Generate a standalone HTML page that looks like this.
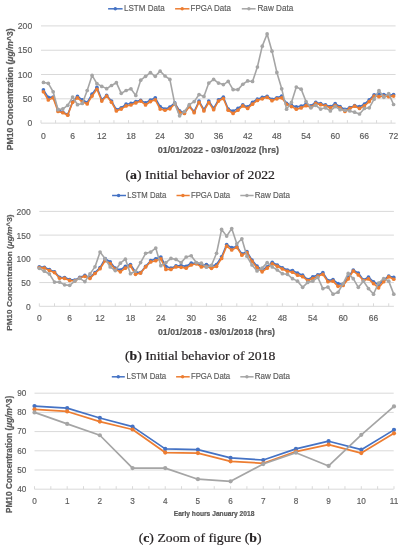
<!DOCTYPE html>
<html><head><meta charset="utf-8"><title>PM10 charts</title>
<style>html,body{margin:0;padding:0;background:#fff;}svg{display:block;filter:blur(0.4px);}text{font-family:"Liberation Sans",sans-serif;fill:#595959;stroke:#595959;stroke-width:0.15px;paint-order:stroke;}.b{stroke-width:0.22px;}.cap{stroke:#231F20;stroke-width:0.2px;}</style>
</head><body>
<svg width="404" height="550" viewBox="0 0 404 550">
<rect width="404" height="550" fill="#fff"/>
<line x1="41" y1="98.84" x2="395.6" y2="98.84" stroke="#D9D9D9" stroke-width="1"/>
<line x1="41" y1="74.53" x2="395.6" y2="74.53" stroke="#D9D9D9" stroke-width="1"/>
<line x1="41" y1="50.22" x2="395.6" y2="50.22" stroke="#D9D9D9" stroke-width="1"/>
<line x1="41" y1="25.91" x2="395.6" y2="25.91" stroke="#D9D9D9" stroke-width="1"/>
<line x1="41" y1="123.15" x2="395.6" y2="123.15" stroke="#D9D9D9" stroke-width="1"/>
<line x1="41" y1="120.15" x2="41" y2="123.15" stroke="#D9D9D9" stroke-width="1"/>
<line x1="55.59" y1="120.15" x2="55.59" y2="123.15" stroke="#D9D9D9" stroke-width="1"/>
<line x1="70.18" y1="120.15" x2="70.18" y2="123.15" stroke="#D9D9D9" stroke-width="1"/>
<line x1="84.77" y1="120.15" x2="84.77" y2="123.15" stroke="#D9D9D9" stroke-width="1"/>
<line x1="99.36" y1="120.15" x2="99.36" y2="123.15" stroke="#D9D9D9" stroke-width="1"/>
<line x1="113.95" y1="120.15" x2="113.95" y2="123.15" stroke="#D9D9D9" stroke-width="1"/>
<line x1="128.54" y1="120.15" x2="128.54" y2="123.15" stroke="#D9D9D9" stroke-width="1"/>
<line x1="143.13" y1="120.15" x2="143.13" y2="123.15" stroke="#D9D9D9" stroke-width="1"/>
<line x1="157.72" y1="120.15" x2="157.72" y2="123.15" stroke="#D9D9D9" stroke-width="1"/>
<line x1="172.31" y1="120.15" x2="172.31" y2="123.15" stroke="#D9D9D9" stroke-width="1"/>
<line x1="186.9" y1="120.15" x2="186.9" y2="123.15" stroke="#D9D9D9" stroke-width="1"/>
<line x1="201.49" y1="120.15" x2="201.49" y2="123.15" stroke="#D9D9D9" stroke-width="1"/>
<line x1="216.08" y1="120.15" x2="216.08" y2="123.15" stroke="#D9D9D9" stroke-width="1"/>
<line x1="230.67" y1="120.15" x2="230.67" y2="123.15" stroke="#D9D9D9" stroke-width="1"/>
<line x1="245.26" y1="120.15" x2="245.26" y2="123.15" stroke="#D9D9D9" stroke-width="1"/>
<line x1="259.85" y1="120.15" x2="259.85" y2="123.15" stroke="#D9D9D9" stroke-width="1"/>
<line x1="274.44" y1="120.15" x2="274.44" y2="123.15" stroke="#D9D9D9" stroke-width="1"/>
<line x1="289.03" y1="120.15" x2="289.03" y2="123.15" stroke="#D9D9D9" stroke-width="1"/>
<line x1="303.62" y1="120.15" x2="303.62" y2="123.15" stroke="#D9D9D9" stroke-width="1"/>
<line x1="318.21" y1="120.15" x2="318.21" y2="123.15" stroke="#D9D9D9" stroke-width="1"/>
<line x1="332.8" y1="120.15" x2="332.8" y2="123.15" stroke="#D9D9D9" stroke-width="1"/>
<line x1="347.39" y1="120.15" x2="347.39" y2="123.15" stroke="#D9D9D9" stroke-width="1"/>
<line x1="361.98" y1="120.15" x2="361.98" y2="123.15" stroke="#D9D9D9" stroke-width="1"/>
<line x1="376.57" y1="120.15" x2="376.57" y2="123.15" stroke="#D9D9D9" stroke-width="1"/>
<line x1="391.16" y1="120.15" x2="391.16" y2="123.15" stroke="#D9D9D9" stroke-width="1"/>
<g font-size="8.6" text-anchor="end">
<text x="32.2" y="126.25">0</text>
<text x="32.2" y="101.94">50</text>
<text x="32.2" y="77.63">100</text>
<text x="32.2" y="53.32">150</text>
<text x="32.2" y="29.01">200</text>
</g>
<g font-size="8.6" text-anchor="middle">
<text x="43.43" y="139">0</text>
<text x="72.61" y="139">6</text>
<text x="101.79" y="139">12</text>
<text x="130.96" y="139">18</text>
<text x="160.14" y="139">24</text>
<text x="189.32" y="139">30</text>
<text x="218.5" y="139">36</text>
<text x="247.68" y="139">42</text>
<text x="276.85" y="139">48</text>
<text x="306.03" y="139">54</text>
<text x="335.21" y="139">60</text>
<text x="364.39" y="139">66</text>
<text x="393.57" y="139">72</text>
</g>
<polyline points="43.43,89.89 48.29,97.38 53.16,97.04 58.02,109.68 62.88,112.16 67.75,114.59 72.61,101.76 77.47,96.41 82.33,99.81 87.2,102.49 92.06,94.22 96.92,87.41 101.79,99.81 106.65,95.44 111.51,101.03 116.38,109.68 121.24,107.83 126.1,104.19 130.96,103.46 135.83,101.61 140.69,100.4 145.55,102.88 150.42,100.01 155.28,97.87 160.14,106.62 165.01,109.05 169.87,107.2 174.73,102.88 179.59,110.9 184.46,112.75 189.32,105.94 194.18,111.48 199.05,101.03 203.91,109.68 208.77,101.03 213.64,108.42 218.5,99.81 223.36,97.14 228.22,109.05 233.09,111.14 237.95,108.42 242.81,104.97 247.68,106.96 252.54,102.24 257.4,99.13 262.26,97.38 267.13,96.26 271.99,99.33 276.85,97.87 281.72,96.07 286.58,103.36 291.44,105.16 296.31,106.96 301.17,106.13 306.03,103.95 310.9,105.94 315.76,102.24 320.62,103.7 325.48,104.97 330.35,106.62 335.21,103.7 340.07,106.62 344.94,109.44 349.8,107.54 354.66,105.7 359.53,106.62 364.39,104.19 369.25,99.81 374.11,94.8 378.98,94.22 383.84,94.56 388.7,95.44 393.57,94.56" fill="none" stroke="#4472C4" stroke-width="1.6" stroke-linejoin="round" stroke-linecap="round"/>
<circle cx="43.43" cy="89.89" r="1.85" fill="#4472C4"/>
<circle cx="48.29" cy="97.38" r="1.85" fill="#4472C4"/>
<circle cx="53.16" cy="97.04" r="1.85" fill="#4472C4"/>
<circle cx="58.02" cy="109.68" r="1.85" fill="#4472C4"/>
<circle cx="62.88" cy="112.16" r="1.85" fill="#4472C4"/>
<circle cx="67.75" cy="114.59" r="1.85" fill="#4472C4"/>
<circle cx="72.61" cy="101.76" r="1.85" fill="#4472C4"/>
<circle cx="77.47" cy="96.41" r="1.85" fill="#4472C4"/>
<circle cx="82.33" cy="99.81" r="1.85" fill="#4472C4"/>
<circle cx="87.2" cy="102.49" r="1.85" fill="#4472C4"/>
<circle cx="92.06" cy="94.22" r="1.85" fill="#4472C4"/>
<circle cx="96.92" cy="87.41" r="1.85" fill="#4472C4"/>
<circle cx="101.79" cy="99.81" r="1.85" fill="#4472C4"/>
<circle cx="106.65" cy="95.44" r="1.85" fill="#4472C4"/>
<circle cx="111.51" cy="101.03" r="1.85" fill="#4472C4"/>
<circle cx="116.38" cy="109.68" r="1.85" fill="#4472C4"/>
<circle cx="121.24" cy="107.83" r="1.85" fill="#4472C4"/>
<circle cx="126.1" cy="104.19" r="1.85" fill="#4472C4"/>
<circle cx="130.96" cy="103.46" r="1.85" fill="#4472C4"/>
<circle cx="135.83" cy="101.61" r="1.85" fill="#4472C4"/>
<circle cx="140.69" cy="100.4" r="1.85" fill="#4472C4"/>
<circle cx="145.55" cy="102.88" r="1.85" fill="#4472C4"/>
<circle cx="150.42" cy="100.01" r="1.85" fill="#4472C4"/>
<circle cx="155.28" cy="97.87" r="1.85" fill="#4472C4"/>
<circle cx="160.14" cy="106.62" r="1.85" fill="#4472C4"/>
<circle cx="165.01" cy="109.05" r="1.85" fill="#4472C4"/>
<circle cx="169.87" cy="107.2" r="1.85" fill="#4472C4"/>
<circle cx="174.73" cy="102.88" r="1.85" fill="#4472C4"/>
<circle cx="179.59" cy="110.9" r="1.85" fill="#4472C4"/>
<circle cx="184.46" cy="112.75" r="1.85" fill="#4472C4"/>
<circle cx="189.32" cy="105.94" r="1.85" fill="#4472C4"/>
<circle cx="194.18" cy="111.48" r="1.85" fill="#4472C4"/>
<circle cx="199.05" cy="101.03" r="1.85" fill="#4472C4"/>
<circle cx="203.91" cy="109.68" r="1.85" fill="#4472C4"/>
<circle cx="208.77" cy="101.03" r="1.85" fill="#4472C4"/>
<circle cx="213.64" cy="108.42" r="1.85" fill="#4472C4"/>
<circle cx="218.5" cy="99.81" r="1.85" fill="#4472C4"/>
<circle cx="223.36" cy="97.14" r="1.85" fill="#4472C4"/>
<circle cx="228.22" cy="109.05" r="1.85" fill="#4472C4"/>
<circle cx="233.09" cy="111.14" r="1.85" fill="#4472C4"/>
<circle cx="237.95" cy="108.42" r="1.85" fill="#4472C4"/>
<circle cx="242.81" cy="104.97" r="1.85" fill="#4472C4"/>
<circle cx="247.68" cy="106.96" r="1.85" fill="#4472C4"/>
<circle cx="252.54" cy="102.24" r="1.85" fill="#4472C4"/>
<circle cx="257.4" cy="99.13" r="1.85" fill="#4472C4"/>
<circle cx="262.26" cy="97.38" r="1.85" fill="#4472C4"/>
<circle cx="267.13" cy="96.26" r="1.85" fill="#4472C4"/>
<circle cx="271.99" cy="99.33" r="1.85" fill="#4472C4"/>
<circle cx="276.85" cy="97.87" r="1.85" fill="#4472C4"/>
<circle cx="281.72" cy="96.07" r="1.85" fill="#4472C4"/>
<circle cx="286.58" cy="103.36" r="1.85" fill="#4472C4"/>
<circle cx="291.44" cy="105.16" r="1.85" fill="#4472C4"/>
<circle cx="296.31" cy="106.96" r="1.85" fill="#4472C4"/>
<circle cx="301.17" cy="106.13" r="1.85" fill="#4472C4"/>
<circle cx="306.03" cy="103.95" r="1.85" fill="#4472C4"/>
<circle cx="310.9" cy="105.94" r="1.85" fill="#4472C4"/>
<circle cx="315.76" cy="102.24" r="1.85" fill="#4472C4"/>
<circle cx="320.62" cy="103.7" r="1.85" fill="#4472C4"/>
<circle cx="325.48" cy="104.97" r="1.85" fill="#4472C4"/>
<circle cx="330.35" cy="106.62" r="1.85" fill="#4472C4"/>
<circle cx="335.21" cy="103.7" r="1.85" fill="#4472C4"/>
<circle cx="340.07" cy="106.62" r="1.85" fill="#4472C4"/>
<circle cx="344.94" cy="109.44" r="1.85" fill="#4472C4"/>
<circle cx="349.8" cy="107.54" r="1.85" fill="#4472C4"/>
<circle cx="354.66" cy="105.7" r="1.85" fill="#4472C4"/>
<circle cx="359.53" cy="106.62" r="1.85" fill="#4472C4"/>
<circle cx="364.39" cy="104.19" r="1.85" fill="#4472C4"/>
<circle cx="369.25" cy="99.81" r="1.85" fill="#4472C4"/>
<circle cx="374.11" cy="94.8" r="1.85" fill="#4472C4"/>
<circle cx="378.98" cy="94.22" r="1.85" fill="#4472C4"/>
<circle cx="383.84" cy="94.56" r="1.85" fill="#4472C4"/>
<circle cx="388.7" cy="95.44" r="1.85" fill="#4472C4"/>
<circle cx="393.57" cy="94.56" r="1.85" fill="#4472C4"/>
<polyline points="43.43,91.74 48.29,100.01 53.16,97.87 58.02,111.48 62.88,112.75 67.75,115.22 72.61,102.24 77.47,97.87 82.33,101.76 87.2,103.95 92.06,96.07 96.92,89.26 101.79,101.03 106.65,96.07 111.51,102.24 116.38,110.9 121.24,109.05 126.1,105.94 130.96,105.01 135.83,102.88 140.69,101.03 145.55,104.97 150.42,101.61 155.28,99.81 160.14,109.05 165.01,110.27 169.87,108.81 174.73,103.95 179.59,112.16 184.46,113.43 189.32,106.62 194.18,112.75 199.05,102.24 203.91,110.9 208.77,102.49 213.64,109.68 218.5,101.03 223.36,98.55 228.22,110.27 233.09,113.43 237.95,110.27 242.81,105.94 247.68,108.42 252.54,104.19 257.4,100.4 262.26,98.84 267.13,97.33 271.99,100.64 276.85,98.84 281.72,97.87 286.58,104.24 291.44,106.62 296.31,109.15 301.17,107.88 306.03,105.65 310.9,107.2 315.76,103.46 320.62,104.67 325.48,105.94 330.35,107.83 335.21,105.36 340.07,107.83 344.94,111.48 349.8,108.42 354.66,106.18 359.53,108.42 364.39,105.94 369.25,101.61 374.11,96.07 378.98,96.65 383.84,96.07 388.7,96.65 393.57,96.07" fill="none" stroke="#ED7D31" stroke-width="1.6" stroke-linejoin="round" stroke-linecap="round"/>
<circle cx="43.43" cy="91.74" r="1.85" fill="#ED7D31"/>
<circle cx="48.29" cy="100.01" r="1.85" fill="#ED7D31"/>
<circle cx="53.16" cy="97.87" r="1.85" fill="#ED7D31"/>
<circle cx="58.02" cy="111.48" r="1.85" fill="#ED7D31"/>
<circle cx="62.88" cy="112.75" r="1.85" fill="#ED7D31"/>
<circle cx="67.75" cy="115.22" r="1.85" fill="#ED7D31"/>
<circle cx="72.61" cy="102.24" r="1.85" fill="#ED7D31"/>
<circle cx="77.47" cy="97.87" r="1.85" fill="#ED7D31"/>
<circle cx="82.33" cy="101.76" r="1.85" fill="#ED7D31"/>
<circle cx="87.2" cy="103.95" r="1.85" fill="#ED7D31"/>
<circle cx="92.06" cy="96.07" r="1.85" fill="#ED7D31"/>
<circle cx="96.92" cy="89.26" r="1.85" fill="#ED7D31"/>
<circle cx="101.79" cy="101.03" r="1.85" fill="#ED7D31"/>
<circle cx="106.65" cy="96.07" r="1.85" fill="#ED7D31"/>
<circle cx="111.51" cy="102.24" r="1.85" fill="#ED7D31"/>
<circle cx="116.38" cy="110.9" r="1.85" fill="#ED7D31"/>
<circle cx="121.24" cy="109.05" r="1.85" fill="#ED7D31"/>
<circle cx="126.1" cy="105.94" r="1.85" fill="#ED7D31"/>
<circle cx="130.96" cy="105.01" r="1.85" fill="#ED7D31"/>
<circle cx="135.83" cy="102.88" r="1.85" fill="#ED7D31"/>
<circle cx="140.69" cy="101.03" r="1.85" fill="#ED7D31"/>
<circle cx="145.55" cy="104.97" r="1.85" fill="#ED7D31"/>
<circle cx="150.42" cy="101.61" r="1.85" fill="#ED7D31"/>
<circle cx="155.28" cy="99.81" r="1.85" fill="#ED7D31"/>
<circle cx="160.14" cy="109.05" r="1.85" fill="#ED7D31"/>
<circle cx="165.01" cy="110.27" r="1.85" fill="#ED7D31"/>
<circle cx="169.87" cy="108.81" r="1.85" fill="#ED7D31"/>
<circle cx="174.73" cy="103.95" r="1.85" fill="#ED7D31"/>
<circle cx="179.59" cy="112.16" r="1.85" fill="#ED7D31"/>
<circle cx="184.46" cy="113.43" r="1.85" fill="#ED7D31"/>
<circle cx="189.32" cy="106.62" r="1.85" fill="#ED7D31"/>
<circle cx="194.18" cy="112.75" r="1.85" fill="#ED7D31"/>
<circle cx="199.05" cy="102.24" r="1.85" fill="#ED7D31"/>
<circle cx="203.91" cy="110.9" r="1.85" fill="#ED7D31"/>
<circle cx="208.77" cy="102.49" r="1.85" fill="#ED7D31"/>
<circle cx="213.64" cy="109.68" r="1.85" fill="#ED7D31"/>
<circle cx="218.5" cy="101.03" r="1.85" fill="#ED7D31"/>
<circle cx="223.36" cy="98.55" r="1.85" fill="#ED7D31"/>
<circle cx="228.22" cy="110.27" r="1.85" fill="#ED7D31"/>
<circle cx="233.09" cy="113.43" r="1.85" fill="#ED7D31"/>
<circle cx="237.95" cy="110.27" r="1.85" fill="#ED7D31"/>
<circle cx="242.81" cy="105.94" r="1.85" fill="#ED7D31"/>
<circle cx="247.68" cy="108.42" r="1.85" fill="#ED7D31"/>
<circle cx="252.54" cy="104.19" r="1.85" fill="#ED7D31"/>
<circle cx="257.4" cy="100.4" r="1.85" fill="#ED7D31"/>
<circle cx="262.26" cy="98.84" r="1.85" fill="#ED7D31"/>
<circle cx="267.13" cy="97.33" r="1.85" fill="#ED7D31"/>
<circle cx="271.99" cy="100.64" r="1.85" fill="#ED7D31"/>
<circle cx="276.85" cy="98.84" r="1.85" fill="#ED7D31"/>
<circle cx="281.72" cy="97.87" r="1.85" fill="#ED7D31"/>
<circle cx="286.58" cy="104.24" r="1.85" fill="#ED7D31"/>
<circle cx="291.44" cy="106.62" r="1.85" fill="#ED7D31"/>
<circle cx="296.31" cy="109.15" r="1.85" fill="#ED7D31"/>
<circle cx="301.17" cy="107.88" r="1.85" fill="#ED7D31"/>
<circle cx="306.03" cy="105.65" r="1.85" fill="#ED7D31"/>
<circle cx="310.9" cy="107.2" r="1.85" fill="#ED7D31"/>
<circle cx="315.76" cy="103.46" r="1.85" fill="#ED7D31"/>
<circle cx="320.62" cy="104.67" r="1.85" fill="#ED7D31"/>
<circle cx="325.48" cy="105.94" r="1.85" fill="#ED7D31"/>
<circle cx="330.35" cy="107.83" r="1.85" fill="#ED7D31"/>
<circle cx="335.21" cy="105.36" r="1.85" fill="#ED7D31"/>
<circle cx="340.07" cy="107.83" r="1.85" fill="#ED7D31"/>
<circle cx="344.94" cy="111.48" r="1.85" fill="#ED7D31"/>
<circle cx="349.8" cy="108.42" r="1.85" fill="#ED7D31"/>
<circle cx="354.66" cy="106.18" r="1.85" fill="#ED7D31"/>
<circle cx="359.53" cy="108.42" r="1.85" fill="#ED7D31"/>
<circle cx="364.39" cy="105.94" r="1.85" fill="#ED7D31"/>
<circle cx="369.25" cy="101.61" r="1.85" fill="#ED7D31"/>
<circle cx="374.11" cy="96.07" r="1.85" fill="#ED7D31"/>
<circle cx="378.98" cy="96.65" r="1.85" fill="#ED7D31"/>
<circle cx="383.84" cy="96.07" r="1.85" fill="#ED7D31"/>
<circle cx="388.7" cy="96.65" r="1.85" fill="#ED7D31"/>
<circle cx="393.57" cy="96.07" r="1.85" fill="#ED7D31"/>
<polyline points="43.43,82.46 48.29,83.28 53.16,91.74 58.02,109.68 62.88,108.81 67.75,105.36 72.61,97.04 77.47,104.67 82.33,103.46 87.2,90.48 92.06,75.41 96.92,83.67 101.79,86.39 106.65,88.63 111.51,85.52 116.38,82.7 121.24,93.35 126.1,90.48 130.96,88.87 135.83,95.44 140.69,80.22 145.55,76.28 150.42,72.59 155.28,76.28 160.14,71.13 165.01,75.99 169.87,79.39 174.73,103.7 179.59,115.86 184.46,111.48 189.32,104.67 194.18,101.61 199.05,94.56 203.91,96.41 208.77,83.09 213.64,79.39 218.5,83.09 223.36,84.55 228.22,81.43 233.09,89.6 237.95,89.6 242.81,84.25 247.68,80.95 252.54,81.43 257.4,66.99 262.26,46.14 267.13,33.93 271.99,51.19 276.85,72.44 281.72,88.82 286.58,109.15 291.44,102.44 296.31,86.98 301.17,89.16 306.03,101.51 310.9,107.83 315.76,105.36 320.62,109.05 325.48,107.83 330.35,110.9 335.21,106.62 340.07,109.68 344.94,110.27 349.8,110.9 354.66,112.16 359.53,114.01 364.39,108.42 369.25,107.83 374.11,99.13 378.98,90.48 383.84,97.28 388.7,93.59 393.57,104.48" fill="none" stroke="#A5A5A5" stroke-width="1.6" stroke-linejoin="round" stroke-linecap="round"/>
<circle cx="43.43" cy="82.46" r="1.85" fill="#A5A5A5"/>
<circle cx="48.29" cy="83.28" r="1.85" fill="#A5A5A5"/>
<circle cx="53.16" cy="91.74" r="1.85" fill="#A5A5A5"/>
<circle cx="58.02" cy="109.68" r="1.85" fill="#A5A5A5"/>
<circle cx="62.88" cy="108.81" r="1.85" fill="#A5A5A5"/>
<circle cx="67.75" cy="105.36" r="1.85" fill="#A5A5A5"/>
<circle cx="72.61" cy="97.04" r="1.85" fill="#A5A5A5"/>
<circle cx="77.47" cy="104.67" r="1.85" fill="#A5A5A5"/>
<circle cx="82.33" cy="103.46" r="1.85" fill="#A5A5A5"/>
<circle cx="87.2" cy="90.48" r="1.85" fill="#A5A5A5"/>
<circle cx="92.06" cy="75.41" r="1.85" fill="#A5A5A5"/>
<circle cx="96.92" cy="83.67" r="1.85" fill="#A5A5A5"/>
<circle cx="101.79" cy="86.39" r="1.85" fill="#A5A5A5"/>
<circle cx="106.65" cy="88.63" r="1.85" fill="#A5A5A5"/>
<circle cx="111.51" cy="85.52" r="1.85" fill="#A5A5A5"/>
<circle cx="116.38" cy="82.7" r="1.85" fill="#A5A5A5"/>
<circle cx="121.24" cy="93.35" r="1.85" fill="#A5A5A5"/>
<circle cx="126.1" cy="90.48" r="1.85" fill="#A5A5A5"/>
<circle cx="130.96" cy="88.87" r="1.85" fill="#A5A5A5"/>
<circle cx="135.83" cy="95.44" r="1.85" fill="#A5A5A5"/>
<circle cx="140.69" cy="80.22" r="1.85" fill="#A5A5A5"/>
<circle cx="145.55" cy="76.28" r="1.85" fill="#A5A5A5"/>
<circle cx="150.42" cy="72.59" r="1.85" fill="#A5A5A5"/>
<circle cx="155.28" cy="76.28" r="1.85" fill="#A5A5A5"/>
<circle cx="160.14" cy="71.13" r="1.85" fill="#A5A5A5"/>
<circle cx="165.01" cy="75.99" r="1.85" fill="#A5A5A5"/>
<circle cx="169.87" cy="79.39" r="1.85" fill="#A5A5A5"/>
<circle cx="174.73" cy="103.7" r="1.85" fill="#A5A5A5"/>
<circle cx="179.59" cy="115.86" r="1.85" fill="#A5A5A5"/>
<circle cx="184.46" cy="111.48" r="1.85" fill="#A5A5A5"/>
<circle cx="189.32" cy="104.67" r="1.85" fill="#A5A5A5"/>
<circle cx="194.18" cy="101.61" r="1.85" fill="#A5A5A5"/>
<circle cx="199.05" cy="94.56" r="1.85" fill="#A5A5A5"/>
<circle cx="203.91" cy="96.41" r="1.85" fill="#A5A5A5"/>
<circle cx="208.77" cy="83.09" r="1.85" fill="#A5A5A5"/>
<circle cx="213.64" cy="79.39" r="1.85" fill="#A5A5A5"/>
<circle cx="218.5" cy="83.09" r="1.85" fill="#A5A5A5"/>
<circle cx="223.36" cy="84.55" r="1.85" fill="#A5A5A5"/>
<circle cx="228.22" cy="81.43" r="1.85" fill="#A5A5A5"/>
<circle cx="233.09" cy="89.6" r="1.85" fill="#A5A5A5"/>
<circle cx="237.95" cy="89.6" r="1.85" fill="#A5A5A5"/>
<circle cx="242.81" cy="84.25" r="1.85" fill="#A5A5A5"/>
<circle cx="247.68" cy="80.95" r="1.85" fill="#A5A5A5"/>
<circle cx="252.54" cy="81.43" r="1.85" fill="#A5A5A5"/>
<circle cx="257.4" cy="66.99" r="1.85" fill="#A5A5A5"/>
<circle cx="262.26" cy="46.14" r="1.85" fill="#A5A5A5"/>
<circle cx="267.13" cy="33.93" r="1.85" fill="#A5A5A5"/>
<circle cx="271.99" cy="51.19" r="1.85" fill="#A5A5A5"/>
<circle cx="276.85" cy="72.44" r="1.85" fill="#A5A5A5"/>
<circle cx="281.72" cy="88.82" r="1.85" fill="#A5A5A5"/>
<circle cx="286.58" cy="109.15" r="1.85" fill="#A5A5A5"/>
<circle cx="291.44" cy="102.44" r="1.85" fill="#A5A5A5"/>
<circle cx="296.31" cy="86.98" r="1.85" fill="#A5A5A5"/>
<circle cx="301.17" cy="89.16" r="1.85" fill="#A5A5A5"/>
<circle cx="306.03" cy="101.51" r="1.85" fill="#A5A5A5"/>
<circle cx="310.9" cy="107.83" r="1.85" fill="#A5A5A5"/>
<circle cx="315.76" cy="105.36" r="1.85" fill="#A5A5A5"/>
<circle cx="320.62" cy="109.05" r="1.85" fill="#A5A5A5"/>
<circle cx="325.48" cy="107.83" r="1.85" fill="#A5A5A5"/>
<circle cx="330.35" cy="110.9" r="1.85" fill="#A5A5A5"/>
<circle cx="335.21" cy="106.62" r="1.85" fill="#A5A5A5"/>
<circle cx="340.07" cy="109.68" r="1.85" fill="#A5A5A5"/>
<circle cx="344.94" cy="110.27" r="1.85" fill="#A5A5A5"/>
<circle cx="349.8" cy="110.9" r="1.85" fill="#A5A5A5"/>
<circle cx="354.66" cy="112.16" r="1.85" fill="#A5A5A5"/>
<circle cx="359.53" cy="114.01" r="1.85" fill="#A5A5A5"/>
<circle cx="364.39" cy="108.42" r="1.85" fill="#A5A5A5"/>
<circle cx="369.25" cy="107.83" r="1.85" fill="#A5A5A5"/>
<circle cx="374.11" cy="99.13" r="1.85" fill="#A5A5A5"/>
<circle cx="378.98" cy="90.48" r="1.85" fill="#A5A5A5"/>
<circle cx="383.84" cy="97.28" r="1.85" fill="#A5A5A5"/>
<circle cx="388.7" cy="93.59" r="1.85" fill="#A5A5A5"/>
<circle cx="393.57" cy="104.48" r="1.85" fill="#A5A5A5"/>
<text x="157.7" y="152.8" font-size="8.9" font-weight="bold" class="b" textLength="121.3" lengthAdjust="spacingAndGlyphs">01/01/2022 - 03/01/2022 (hrs)</text>
<text transform="translate(13.4,150.3) rotate(-90)" font-size="9.0" font-weight="bold" class="b" textLength="121.9" lengthAdjust="spacingAndGlyphs">PM10 Concentration (<tspan font-style="italic">μg/m</tspan>^3)</text>
<line x1="108.1" y1="8.8" x2="122.6" y2="8.8" stroke="#4472C4" stroke-width="1.5"/>
<circle cx="115.3" cy="8.8" r="1.7" fill="#4472C4"/>
<text x="124" y="11.4" font-size="8.7" textLength="40.6" lengthAdjust="spacingAndGlyphs">LSTM Data</text>
<line x1="175.1" y1="8.8" x2="189.4" y2="8.8" stroke="#ED7D31" stroke-width="1.5"/>
<circle cx="182.2" cy="8.8" r="1.7" fill="#ED7D31"/>
<text x="190.6" y="11.4" font-size="8.7" textLength="40.3" lengthAdjust="spacingAndGlyphs">FPGA Data</text>
<line x1="241.8" y1="8.8" x2="255.6" y2="8.8" stroke="#A5A5A5" stroke-width="1.5"/>
<circle cx="248.9" cy="8.8" r="1.7" fill="#A5A5A5"/>
<text x="257.5" y="11.4" font-size="8.7" textLength="35.7" lengthAdjust="spacingAndGlyphs">Raw Data</text>
<text x="125.5" y="179.4" class="cap" style="font-family:'Liberation Serif',serif;fill:#231F20" font-size="12.6" textLength="149.5" lengthAdjust="spacingAndGlyphs">(<tspan font-weight="bold">a</tspan>) Initial behavior of 2022</text>
<line x1="39.3" y1="282.57" x2="393.9" y2="282.57" stroke="#D9D9D9" stroke-width="1"/>
<line x1="39.3" y1="258.85" x2="393.9" y2="258.85" stroke="#D9D9D9" stroke-width="1"/>
<line x1="39.3" y1="235.12" x2="393.9" y2="235.12" stroke="#D9D9D9" stroke-width="1"/>
<line x1="39.3" y1="211.4" x2="393.9" y2="211.4" stroke="#D9D9D9" stroke-width="1"/>
<line x1="39.3" y1="306.3" x2="393.9" y2="306.3" stroke="#D9D9D9" stroke-width="1"/>
<line x1="39.3" y1="303.3" x2="39.3" y2="306.3" stroke="#D9D9D9" stroke-width="1"/>
<line x1="54.49" y1="303.3" x2="54.49" y2="306.3" stroke="#D9D9D9" stroke-width="1"/>
<line x1="69.68" y1="303.3" x2="69.68" y2="306.3" stroke="#D9D9D9" stroke-width="1"/>
<line x1="84.88" y1="303.3" x2="84.88" y2="306.3" stroke="#D9D9D9" stroke-width="1"/>
<line x1="100.07" y1="303.3" x2="100.07" y2="306.3" stroke="#D9D9D9" stroke-width="1"/>
<line x1="115.26" y1="303.3" x2="115.26" y2="306.3" stroke="#D9D9D9" stroke-width="1"/>
<line x1="130.45" y1="303.3" x2="130.45" y2="306.3" stroke="#D9D9D9" stroke-width="1"/>
<line x1="145.64" y1="303.3" x2="145.64" y2="306.3" stroke="#D9D9D9" stroke-width="1"/>
<line x1="160.84" y1="303.3" x2="160.84" y2="306.3" stroke="#D9D9D9" stroke-width="1"/>
<line x1="176.03" y1="303.3" x2="176.03" y2="306.3" stroke="#D9D9D9" stroke-width="1"/>
<line x1="191.22" y1="303.3" x2="191.22" y2="306.3" stroke="#D9D9D9" stroke-width="1"/>
<line x1="206.41" y1="303.3" x2="206.41" y2="306.3" stroke="#D9D9D9" stroke-width="1"/>
<line x1="221.6" y1="303.3" x2="221.6" y2="306.3" stroke="#D9D9D9" stroke-width="1"/>
<line x1="236.8" y1="303.3" x2="236.8" y2="306.3" stroke="#D9D9D9" stroke-width="1"/>
<line x1="251.99" y1="303.3" x2="251.99" y2="306.3" stroke="#D9D9D9" stroke-width="1"/>
<line x1="267.18" y1="303.3" x2="267.18" y2="306.3" stroke="#D9D9D9" stroke-width="1"/>
<line x1="282.37" y1="303.3" x2="282.37" y2="306.3" stroke="#D9D9D9" stroke-width="1"/>
<line x1="297.56" y1="303.3" x2="297.56" y2="306.3" stroke="#D9D9D9" stroke-width="1"/>
<line x1="312.76" y1="303.3" x2="312.76" y2="306.3" stroke="#D9D9D9" stroke-width="1"/>
<line x1="327.95" y1="303.3" x2="327.95" y2="306.3" stroke="#D9D9D9" stroke-width="1"/>
<line x1="343.14" y1="303.3" x2="343.14" y2="306.3" stroke="#D9D9D9" stroke-width="1"/>
<line x1="358.33" y1="303.3" x2="358.33" y2="306.3" stroke="#D9D9D9" stroke-width="1"/>
<line x1="373.52" y1="303.3" x2="373.52" y2="306.3" stroke="#D9D9D9" stroke-width="1"/>
<line x1="388.72" y1="303.3" x2="388.72" y2="306.3" stroke="#D9D9D9" stroke-width="1"/>
<g font-size="8.5" text-anchor="end">
<text x="30.8" y="309.7">0</text>
<text x="30.8" y="285.97">50</text>
<text x="30.8" y="262.25">100</text>
<text x="30.8" y="238.53">150</text>
<text x="30.8" y="214.8">200</text>
</g>
<g font-size="8.5" text-anchor="middle">
<text x="39.3" y="321.2">0</text>
<text x="69.68" y="321.2">6</text>
<text x="100.07" y="321.2">12</text>
<text x="130.45" y="321.2">18</text>
<text x="160.84" y="321.2">24</text>
<text x="191.22" y="321.2">30</text>
<text x="221.6" y="321.2">36</text>
<text x="251.99" y="321.2">42</text>
<text x="282.37" y="321.2">48</text>
<text x="312.76" y="321.2">54</text>
<text x="343.14" y="321.2">60</text>
<text x="373.52" y="321.2">66</text>
</g>
<polyline points="39.3,266.77 44.36,267.3 49.43,269.72 54.49,271.85 59.56,277.36 64.62,277.55 69.68,279.59 74.75,280.11 79.81,277.36 84.88,275.46 89.94,277.55 95,272.66 100.07,267.53 105.13,258.61 110.2,261.93 115.26,268.15 120.32,270 125.39,266.3 130.45,264.54 135.52,271.85 140.58,272.71 145.64,266.3 150.71,260.7 155.77,258.85 160.84,257 165.9,266.3 170.96,268.15 176.03,265.97 181.09,265.64 186.16,266.3 191.22,263.22 196.28,263.22 201.35,265.64 206.41,264.54 211.48,266.3 216.54,264.54 221.6,256.81 226.67,244.62 231.73,247.7 236.8,246.51 241.86,253.92 246.92,251.59 251.99,260.04 257.05,266.2 262.12,270 267.18,266.92 272.24,262.36 277.31,265.02 282.37,267.77 287.44,270 292.5,270.62 297.56,273.09 302.63,275.22 307.69,279.63 312.76,276.79 317.82,274.94 322.88,272.71 327.95,280.53 333.01,279.63 338.08,283.62 343.14,284.24 348.2,277.4 353.27,270 358.33,273.09 363.4,279.92 368.46,277.17 373.52,281.77 378.59,284.85 383.65,279.92 388.72,276.17 393.78,277.4" fill="none" stroke="#4472C4" stroke-width="1.6" stroke-linejoin="round" stroke-linecap="round"/>
<circle cx="39.3" cy="266.77" r="1.85" fill="#4472C4"/>
<circle cx="44.36" cy="267.3" r="1.85" fill="#4472C4"/>
<circle cx="49.43" cy="269.72" r="1.85" fill="#4472C4"/>
<circle cx="54.49" cy="271.85" r="1.85" fill="#4472C4"/>
<circle cx="59.56" cy="277.36" r="1.85" fill="#4472C4"/>
<circle cx="64.62" cy="277.55" r="1.85" fill="#4472C4"/>
<circle cx="69.68" cy="279.59" r="1.85" fill="#4472C4"/>
<circle cx="74.75" cy="280.11" r="1.85" fill="#4472C4"/>
<circle cx="79.81" cy="277.36" r="1.85" fill="#4472C4"/>
<circle cx="84.88" cy="275.46" r="1.85" fill="#4472C4"/>
<circle cx="89.94" cy="277.55" r="1.85" fill="#4472C4"/>
<circle cx="95" cy="272.66" r="1.85" fill="#4472C4"/>
<circle cx="100.07" cy="267.53" r="1.85" fill="#4472C4"/>
<circle cx="105.13" cy="258.61" r="1.85" fill="#4472C4"/>
<circle cx="110.2" cy="261.93" r="1.85" fill="#4472C4"/>
<circle cx="115.26" cy="268.15" r="1.85" fill="#4472C4"/>
<circle cx="120.32" cy="270" r="1.85" fill="#4472C4"/>
<circle cx="125.39" cy="266.3" r="1.85" fill="#4472C4"/>
<circle cx="130.45" cy="264.54" r="1.85" fill="#4472C4"/>
<circle cx="135.52" cy="271.85" r="1.85" fill="#4472C4"/>
<circle cx="140.58" cy="272.71" r="1.85" fill="#4472C4"/>
<circle cx="145.64" cy="266.3" r="1.85" fill="#4472C4"/>
<circle cx="150.71" cy="260.7" r="1.85" fill="#4472C4"/>
<circle cx="155.77" cy="258.85" r="1.85" fill="#4472C4"/>
<circle cx="160.84" cy="257" r="1.85" fill="#4472C4"/>
<circle cx="165.9" cy="266.3" r="1.85" fill="#4472C4"/>
<circle cx="170.96" cy="268.15" r="1.85" fill="#4472C4"/>
<circle cx="176.03" cy="265.97" r="1.85" fill="#4472C4"/>
<circle cx="181.09" cy="265.64" r="1.85" fill="#4472C4"/>
<circle cx="186.16" cy="266.3" r="1.85" fill="#4472C4"/>
<circle cx="191.22" cy="263.22" r="1.85" fill="#4472C4"/>
<circle cx="196.28" cy="263.22" r="1.85" fill="#4472C4"/>
<circle cx="201.35" cy="265.64" r="1.85" fill="#4472C4"/>
<circle cx="206.41" cy="264.54" r="1.85" fill="#4472C4"/>
<circle cx="211.48" cy="266.3" r="1.85" fill="#4472C4"/>
<circle cx="216.54" cy="264.54" r="1.85" fill="#4472C4"/>
<circle cx="221.6" cy="256.81" r="1.85" fill="#4472C4"/>
<circle cx="226.67" cy="244.62" r="1.85" fill="#4472C4"/>
<circle cx="231.73" cy="247.7" r="1.85" fill="#4472C4"/>
<circle cx="236.8" cy="246.51" r="1.85" fill="#4472C4"/>
<circle cx="241.86" cy="253.92" r="1.85" fill="#4472C4"/>
<circle cx="246.92" cy="251.59" r="1.85" fill="#4472C4"/>
<circle cx="251.99" cy="260.04" r="1.85" fill="#4472C4"/>
<circle cx="257.05" cy="266.2" r="1.85" fill="#4472C4"/>
<circle cx="262.12" cy="270" r="1.85" fill="#4472C4"/>
<circle cx="267.18" cy="266.92" r="1.85" fill="#4472C4"/>
<circle cx="272.24" cy="262.36" r="1.85" fill="#4472C4"/>
<circle cx="277.31" cy="265.02" r="1.85" fill="#4472C4"/>
<circle cx="282.37" cy="267.77" r="1.85" fill="#4472C4"/>
<circle cx="287.44" cy="270" r="1.85" fill="#4472C4"/>
<circle cx="292.5" cy="270.62" r="1.85" fill="#4472C4"/>
<circle cx="297.56" cy="273.09" r="1.85" fill="#4472C4"/>
<circle cx="302.63" cy="275.22" r="1.85" fill="#4472C4"/>
<circle cx="307.69" cy="279.63" r="1.85" fill="#4472C4"/>
<circle cx="312.76" cy="276.79" r="1.85" fill="#4472C4"/>
<circle cx="317.82" cy="274.94" r="1.85" fill="#4472C4"/>
<circle cx="322.88" cy="272.71" r="1.85" fill="#4472C4"/>
<circle cx="327.95" cy="280.53" r="1.85" fill="#4472C4"/>
<circle cx="333.01" cy="279.63" r="1.85" fill="#4472C4"/>
<circle cx="338.08" cy="283.62" r="1.85" fill="#4472C4"/>
<circle cx="343.14" cy="284.24" r="1.85" fill="#4472C4"/>
<circle cx="348.2" cy="277.4" r="1.85" fill="#4472C4"/>
<circle cx="353.27" cy="270" r="1.85" fill="#4472C4"/>
<circle cx="358.33" cy="273.09" r="1.85" fill="#4472C4"/>
<circle cx="363.4" cy="279.92" r="1.85" fill="#4472C4"/>
<circle cx="368.46" cy="277.17" r="1.85" fill="#4472C4"/>
<circle cx="373.52" cy="281.77" r="1.85" fill="#4472C4"/>
<circle cx="378.59" cy="284.85" r="1.85" fill="#4472C4"/>
<circle cx="383.65" cy="279.92" r="1.85" fill="#4472C4"/>
<circle cx="388.72" cy="276.17" r="1.85" fill="#4472C4"/>
<circle cx="393.78" cy="277.4" r="1.85" fill="#4472C4"/>
<polyline points="39.3,267.58 44.36,268.1 49.43,270.62 54.49,272.56 59.56,278.26 64.62,278.4 69.68,280.44 74.75,280.91 79.81,278.02 84.88,276.31 89.94,278.4 95,273.51 100.07,268.77 105.13,260.7 110.2,263.55 115.26,269.38 120.32,271.85 125.39,268.15 130.45,265.97 135.52,274.32 140.58,273.09 145.64,266.92 150.71,261.93 155.77,260.7 160.84,258.85 165.9,269.38 170.96,269.38 176.03,266.92 181.09,267.3 186.16,268.15 191.22,265.02 196.28,263.83 201.35,266.92 206.41,266.44 211.48,268.34 216.54,266.3 221.6,258.38 226.67,246.18 231.73,250.02 236.8,247.41 241.86,255.15 246.92,252.68 251.99,261.46 257.05,267.63 262.12,271.85 267.18,268.15 272.24,263.83 277.31,266.3 282.37,269 287.44,271.23 292.5,272.23 297.56,275.17 302.63,276.64 307.69,280.53 312.76,278.64 317.82,276.17 322.88,274.32 327.95,281.77 333.01,281.15 338.08,286.37 343.14,285.42 348.2,278.92 353.27,271 358.33,274.94 363.4,280.53 368.46,278.92 373.52,283.62 378.59,287.84 383.65,281.77 388.72,276.79 393.78,279.25" fill="none" stroke="#ED7D31" stroke-width="1.6" stroke-linejoin="round" stroke-linecap="round"/>
<circle cx="39.3" cy="267.58" r="1.85" fill="#ED7D31"/>
<circle cx="44.36" cy="268.1" r="1.85" fill="#ED7D31"/>
<circle cx="49.43" cy="270.62" r="1.85" fill="#ED7D31"/>
<circle cx="54.49" cy="272.56" r="1.85" fill="#ED7D31"/>
<circle cx="59.56" cy="278.26" r="1.85" fill="#ED7D31"/>
<circle cx="64.62" cy="278.4" r="1.85" fill="#ED7D31"/>
<circle cx="69.68" cy="280.44" r="1.85" fill="#ED7D31"/>
<circle cx="74.75" cy="280.91" r="1.85" fill="#ED7D31"/>
<circle cx="79.81" cy="278.02" r="1.85" fill="#ED7D31"/>
<circle cx="84.88" cy="276.31" r="1.85" fill="#ED7D31"/>
<circle cx="89.94" cy="278.4" r="1.85" fill="#ED7D31"/>
<circle cx="95" cy="273.51" r="1.85" fill="#ED7D31"/>
<circle cx="100.07" cy="268.77" r="1.85" fill="#ED7D31"/>
<circle cx="105.13" cy="260.7" r="1.85" fill="#ED7D31"/>
<circle cx="110.2" cy="263.55" r="1.85" fill="#ED7D31"/>
<circle cx="115.26" cy="269.38" r="1.85" fill="#ED7D31"/>
<circle cx="120.32" cy="271.85" r="1.85" fill="#ED7D31"/>
<circle cx="125.39" cy="268.15" r="1.85" fill="#ED7D31"/>
<circle cx="130.45" cy="265.97" r="1.85" fill="#ED7D31"/>
<circle cx="135.52" cy="274.32" r="1.85" fill="#ED7D31"/>
<circle cx="140.58" cy="273.09" r="1.85" fill="#ED7D31"/>
<circle cx="145.64" cy="266.92" r="1.85" fill="#ED7D31"/>
<circle cx="150.71" cy="261.93" r="1.85" fill="#ED7D31"/>
<circle cx="155.77" cy="260.7" r="1.85" fill="#ED7D31"/>
<circle cx="160.84" cy="258.85" r="1.85" fill="#ED7D31"/>
<circle cx="165.9" cy="269.38" r="1.85" fill="#ED7D31"/>
<circle cx="170.96" cy="269.38" r="1.85" fill="#ED7D31"/>
<circle cx="176.03" cy="266.92" r="1.85" fill="#ED7D31"/>
<circle cx="181.09" cy="267.3" r="1.85" fill="#ED7D31"/>
<circle cx="186.16" cy="268.15" r="1.85" fill="#ED7D31"/>
<circle cx="191.22" cy="265.02" r="1.85" fill="#ED7D31"/>
<circle cx="196.28" cy="263.83" r="1.85" fill="#ED7D31"/>
<circle cx="201.35" cy="266.92" r="1.85" fill="#ED7D31"/>
<circle cx="206.41" cy="266.44" r="1.85" fill="#ED7D31"/>
<circle cx="211.48" cy="268.34" r="1.85" fill="#ED7D31"/>
<circle cx="216.54" cy="266.3" r="1.85" fill="#ED7D31"/>
<circle cx="221.6" cy="258.38" r="1.85" fill="#ED7D31"/>
<circle cx="226.67" cy="246.18" r="1.85" fill="#ED7D31"/>
<circle cx="231.73" cy="250.02" r="1.85" fill="#ED7D31"/>
<circle cx="236.8" cy="247.41" r="1.85" fill="#ED7D31"/>
<circle cx="241.86" cy="255.15" r="1.85" fill="#ED7D31"/>
<circle cx="246.92" cy="252.68" r="1.85" fill="#ED7D31"/>
<circle cx="251.99" cy="261.46" r="1.85" fill="#ED7D31"/>
<circle cx="257.05" cy="267.63" r="1.85" fill="#ED7D31"/>
<circle cx="262.12" cy="271.85" r="1.85" fill="#ED7D31"/>
<circle cx="267.18" cy="268.15" r="1.85" fill="#ED7D31"/>
<circle cx="272.24" cy="263.83" r="1.85" fill="#ED7D31"/>
<circle cx="277.31" cy="266.3" r="1.85" fill="#ED7D31"/>
<circle cx="282.37" cy="269" r="1.85" fill="#ED7D31"/>
<circle cx="287.44" cy="271.23" r="1.85" fill="#ED7D31"/>
<circle cx="292.5" cy="272.23" r="1.85" fill="#ED7D31"/>
<circle cx="297.56" cy="275.17" r="1.85" fill="#ED7D31"/>
<circle cx="302.63" cy="276.64" r="1.85" fill="#ED7D31"/>
<circle cx="307.69" cy="280.53" r="1.85" fill="#ED7D31"/>
<circle cx="312.76" cy="278.64" r="1.85" fill="#ED7D31"/>
<circle cx="317.82" cy="276.17" r="1.85" fill="#ED7D31"/>
<circle cx="322.88" cy="274.32" r="1.85" fill="#ED7D31"/>
<circle cx="327.95" cy="281.77" r="1.85" fill="#ED7D31"/>
<circle cx="333.01" cy="281.15" r="1.85" fill="#ED7D31"/>
<circle cx="338.08" cy="286.37" r="1.85" fill="#ED7D31"/>
<circle cx="343.14" cy="285.42" r="1.85" fill="#ED7D31"/>
<circle cx="348.2" cy="278.92" r="1.85" fill="#ED7D31"/>
<circle cx="353.27" cy="271" r="1.85" fill="#ED7D31"/>
<circle cx="358.33" cy="274.94" r="1.85" fill="#ED7D31"/>
<circle cx="363.4" cy="280.53" r="1.85" fill="#ED7D31"/>
<circle cx="368.46" cy="278.92" r="1.85" fill="#ED7D31"/>
<circle cx="373.52" cy="283.62" r="1.85" fill="#ED7D31"/>
<circle cx="378.59" cy="287.84" r="1.85" fill="#ED7D31"/>
<circle cx="383.65" cy="281.77" r="1.85" fill="#ED7D31"/>
<circle cx="388.72" cy="276.79" r="1.85" fill="#ED7D31"/>
<circle cx="393.78" cy="279.25" r="1.85" fill="#ED7D31"/>
<polyline points="39.3,268.34 44.36,271.19 49.43,273.99 54.49,282.1 59.56,282.1 64.62,284.85 69.68,285.37 74.75,281.1 79.81,278.3 84.88,281.58 89.94,273.89 95,266.87 100.07,252.06 105.13,258.85 110.2,266.92 115.26,270.62 120.32,263.22 125.39,259.13 130.45,273.7 135.52,271.23 140.58,262.6 145.64,253.35 150.71,252.06 155.77,247.98 160.84,265.64 165.9,262.6 170.96,258.38 176.03,259.47 181.09,262.6 186.16,257 191.22,255.77 196.28,262.6 201.35,263.22 206.41,267.15 211.48,265.26 216.54,253.25 221.6,229.43 226.67,236.12 231.73,228.48 236.8,243.86 241.86,238.78 246.92,256.24 251.99,265.02 257.05,270.95 262.12,268.15 267.18,262.6 272.24,266.92 277.31,270 282.37,273.7 287.44,274.32 292.5,278.64 297.56,281.15 302.63,287.32 307.69,282.39 312.76,281.15 317.82,277.4 322.88,288.55 327.95,287.08 333.01,294.15 338.08,292.25 343.14,283.62 348.2,273.46 353.27,278.64 358.33,287.32 363.4,281.15 368.46,288.55 373.52,294.15 378.59,283 383.65,278.64 388.72,281.15 393.78,294.15" fill="none" stroke="#A5A5A5" stroke-width="1.6" stroke-linejoin="round" stroke-linecap="round"/>
<circle cx="39.3" cy="268.34" r="1.85" fill="#A5A5A5"/>
<circle cx="44.36" cy="271.19" r="1.85" fill="#A5A5A5"/>
<circle cx="49.43" cy="273.99" r="1.85" fill="#A5A5A5"/>
<circle cx="54.49" cy="282.1" r="1.85" fill="#A5A5A5"/>
<circle cx="59.56" cy="282.1" r="1.85" fill="#A5A5A5"/>
<circle cx="64.62" cy="284.85" r="1.85" fill="#A5A5A5"/>
<circle cx="69.68" cy="285.37" r="1.85" fill="#A5A5A5"/>
<circle cx="74.75" cy="281.1" r="1.85" fill="#A5A5A5"/>
<circle cx="79.81" cy="278.3" r="1.85" fill="#A5A5A5"/>
<circle cx="84.88" cy="281.58" r="1.85" fill="#A5A5A5"/>
<circle cx="89.94" cy="273.89" r="1.85" fill="#A5A5A5"/>
<circle cx="95" cy="266.87" r="1.85" fill="#A5A5A5"/>
<circle cx="100.07" cy="252.06" r="1.85" fill="#A5A5A5"/>
<circle cx="105.13" cy="258.85" r="1.85" fill="#A5A5A5"/>
<circle cx="110.2" cy="266.92" r="1.85" fill="#A5A5A5"/>
<circle cx="115.26" cy="270.62" r="1.85" fill="#A5A5A5"/>
<circle cx="120.32" cy="263.22" r="1.85" fill="#A5A5A5"/>
<circle cx="125.39" cy="259.13" r="1.85" fill="#A5A5A5"/>
<circle cx="130.45" cy="273.7" r="1.85" fill="#A5A5A5"/>
<circle cx="135.52" cy="271.23" r="1.85" fill="#A5A5A5"/>
<circle cx="140.58" cy="262.6" r="1.85" fill="#A5A5A5"/>
<circle cx="145.64" cy="253.35" r="1.85" fill="#A5A5A5"/>
<circle cx="150.71" cy="252.06" r="1.85" fill="#A5A5A5"/>
<circle cx="155.77" cy="247.98" r="1.85" fill="#A5A5A5"/>
<circle cx="160.84" cy="265.64" r="1.85" fill="#A5A5A5"/>
<circle cx="165.9" cy="262.6" r="1.85" fill="#A5A5A5"/>
<circle cx="170.96" cy="258.38" r="1.85" fill="#A5A5A5"/>
<circle cx="176.03" cy="259.47" r="1.85" fill="#A5A5A5"/>
<circle cx="181.09" cy="262.6" r="1.85" fill="#A5A5A5"/>
<circle cx="186.16" cy="257" r="1.85" fill="#A5A5A5"/>
<circle cx="191.22" cy="255.77" r="1.85" fill="#A5A5A5"/>
<circle cx="196.28" cy="262.6" r="1.85" fill="#A5A5A5"/>
<circle cx="201.35" cy="263.22" r="1.85" fill="#A5A5A5"/>
<circle cx="206.41" cy="267.15" r="1.85" fill="#A5A5A5"/>
<circle cx="211.48" cy="265.26" r="1.85" fill="#A5A5A5"/>
<circle cx="216.54" cy="253.25" r="1.85" fill="#A5A5A5"/>
<circle cx="221.6" cy="229.43" r="1.85" fill="#A5A5A5"/>
<circle cx="226.67" cy="236.12" r="1.85" fill="#A5A5A5"/>
<circle cx="231.73" cy="228.48" r="1.85" fill="#A5A5A5"/>
<circle cx="236.8" cy="243.86" r="1.85" fill="#A5A5A5"/>
<circle cx="241.86" cy="238.78" r="1.85" fill="#A5A5A5"/>
<circle cx="246.92" cy="256.24" r="1.85" fill="#A5A5A5"/>
<circle cx="251.99" cy="265.02" r="1.85" fill="#A5A5A5"/>
<circle cx="257.05" cy="270.95" r="1.85" fill="#A5A5A5"/>
<circle cx="262.12" cy="268.15" r="1.85" fill="#A5A5A5"/>
<circle cx="267.18" cy="262.6" r="1.85" fill="#A5A5A5"/>
<circle cx="272.24" cy="266.92" r="1.85" fill="#A5A5A5"/>
<circle cx="277.31" cy="270" r="1.85" fill="#A5A5A5"/>
<circle cx="282.37" cy="273.7" r="1.85" fill="#A5A5A5"/>
<circle cx="287.44" cy="274.32" r="1.85" fill="#A5A5A5"/>
<circle cx="292.5" cy="278.64" r="1.85" fill="#A5A5A5"/>
<circle cx="297.56" cy="281.15" r="1.85" fill="#A5A5A5"/>
<circle cx="302.63" cy="287.32" r="1.85" fill="#A5A5A5"/>
<circle cx="307.69" cy="282.39" r="1.85" fill="#A5A5A5"/>
<circle cx="312.76" cy="281.15" r="1.85" fill="#A5A5A5"/>
<circle cx="317.82" cy="277.4" r="1.85" fill="#A5A5A5"/>
<circle cx="322.88" cy="288.55" r="1.85" fill="#A5A5A5"/>
<circle cx="327.95" cy="287.08" r="1.85" fill="#A5A5A5"/>
<circle cx="333.01" cy="294.15" r="1.85" fill="#A5A5A5"/>
<circle cx="338.08" cy="292.25" r="1.85" fill="#A5A5A5"/>
<circle cx="343.14" cy="283.62" r="1.85" fill="#A5A5A5"/>
<circle cx="348.2" cy="273.46" r="1.85" fill="#A5A5A5"/>
<circle cx="353.27" cy="278.64" r="1.85" fill="#A5A5A5"/>
<circle cx="358.33" cy="287.32" r="1.85" fill="#A5A5A5"/>
<circle cx="363.4" cy="281.15" r="1.85" fill="#A5A5A5"/>
<circle cx="368.46" cy="288.55" r="1.85" fill="#A5A5A5"/>
<circle cx="373.52" cy="294.15" r="1.85" fill="#A5A5A5"/>
<circle cx="378.59" cy="283" r="1.85" fill="#A5A5A5"/>
<circle cx="383.65" cy="278.64" r="1.85" fill="#A5A5A5"/>
<circle cx="388.72" cy="281.15" r="1.85" fill="#A5A5A5"/>
<circle cx="393.78" cy="294.15" r="1.85" fill="#A5A5A5"/>
<text x="158" y="334.7" font-size="8.5" font-weight="bold" class="b" textLength="117" lengthAdjust="spacingAndGlyphs">01/01/2018 - 03/01/2018 (hrs)</text>
<text transform="translate(12.2,330.8) rotate(-90)" font-size="8.1" font-weight="bold" class="b" textLength="116.3" lengthAdjust="spacingAndGlyphs">PM10 Concentration (<tspan font-style="italic">μg/m</tspan>^3)</text>
<line x1="112.1" y1="195.5" x2="126" y2="195.5" stroke="#4472C4" stroke-width="1.5"/>
<circle cx="118.6" cy="195.5" r="1.7" fill="#4472C4"/>
<text x="127.2" y="198" font-size="8.4" textLength="39" lengthAdjust="spacingAndGlyphs">LSTM Data</text>
<line x1="176.5" y1="195.5" x2="189.7" y2="195.5" stroke="#ED7D31" stroke-width="1.5"/>
<circle cx="182.9" cy="195.5" r="1.7" fill="#ED7D31"/>
<text x="190.9" y="198" font-size="8.4" textLength="39.3" lengthAdjust="spacingAndGlyphs">FPGA Data</text>
<line x1="240.3" y1="195.5" x2="253.6" y2="195.5" stroke="#A5A5A5" stroke-width="1.5"/>
<circle cx="246.9" cy="195.5" r="1.7" fill="#A5A5A5"/>
<text x="254.8" y="198" font-size="8.4" textLength="35.2" lengthAdjust="spacingAndGlyphs">Raw Data</text>
<text x="125" y="360.4" class="cap" style="font-family:'Liberation Serif',serif;fill:#231F20" font-size="12.6" textLength="150.4" lengthAdjust="spacingAndGlyphs">(<tspan font-weight="bold">b</tspan>) Initial behavior of 2018</text>
<line x1="34.5" y1="470" x2="393.7" y2="470" stroke="#D9D9D9" stroke-width="1"/>
<line x1="34.5" y1="450.8" x2="393.7" y2="450.8" stroke="#D9D9D9" stroke-width="1"/>
<line x1="34.5" y1="431.6" x2="393.7" y2="431.6" stroke="#D9D9D9" stroke-width="1"/>
<line x1="34.5" y1="412.4" x2="393.7" y2="412.4" stroke="#D9D9D9" stroke-width="1"/>
<line x1="34.5" y1="393.2" x2="393.7" y2="393.2" stroke="#D9D9D9" stroke-width="1"/>
<line x1="34.5" y1="489.2" x2="393.7" y2="489.2" stroke="#D9D9D9" stroke-width="1"/>
<line x1="34.5" y1="486.2" x2="34.5" y2="489.2" stroke="#D9D9D9" stroke-width="1"/>
<line x1="50.84" y1="486.2" x2="50.84" y2="489.2" stroke="#D9D9D9" stroke-width="1"/>
<line x1="67.18" y1="486.2" x2="67.18" y2="489.2" stroke="#D9D9D9" stroke-width="1"/>
<line x1="83.52" y1="486.2" x2="83.52" y2="489.2" stroke="#D9D9D9" stroke-width="1"/>
<line x1="99.86" y1="486.2" x2="99.86" y2="489.2" stroke="#D9D9D9" stroke-width="1"/>
<line x1="116.2" y1="486.2" x2="116.2" y2="489.2" stroke="#D9D9D9" stroke-width="1"/>
<line x1="132.54" y1="486.2" x2="132.54" y2="489.2" stroke="#D9D9D9" stroke-width="1"/>
<line x1="148.88" y1="486.2" x2="148.88" y2="489.2" stroke="#D9D9D9" stroke-width="1"/>
<line x1="165.22" y1="486.2" x2="165.22" y2="489.2" stroke="#D9D9D9" stroke-width="1"/>
<line x1="181.56" y1="486.2" x2="181.56" y2="489.2" stroke="#D9D9D9" stroke-width="1"/>
<line x1="197.9" y1="486.2" x2="197.9" y2="489.2" stroke="#D9D9D9" stroke-width="1"/>
<line x1="214.24" y1="486.2" x2="214.24" y2="489.2" stroke="#D9D9D9" stroke-width="1"/>
<line x1="230.58" y1="486.2" x2="230.58" y2="489.2" stroke="#D9D9D9" stroke-width="1"/>
<line x1="246.92" y1="486.2" x2="246.92" y2="489.2" stroke="#D9D9D9" stroke-width="1"/>
<line x1="263.26" y1="486.2" x2="263.26" y2="489.2" stroke="#D9D9D9" stroke-width="1"/>
<line x1="279.6" y1="486.2" x2="279.6" y2="489.2" stroke="#D9D9D9" stroke-width="1"/>
<line x1="295.94" y1="486.2" x2="295.94" y2="489.2" stroke="#D9D9D9" stroke-width="1"/>
<line x1="312.28" y1="486.2" x2="312.28" y2="489.2" stroke="#D9D9D9" stroke-width="1"/>
<line x1="328.62" y1="486.2" x2="328.62" y2="489.2" stroke="#D9D9D9" stroke-width="1"/>
<line x1="344.96" y1="486.2" x2="344.96" y2="489.2" stroke="#D9D9D9" stroke-width="1"/>
<line x1="361.3" y1="486.2" x2="361.3" y2="489.2" stroke="#D9D9D9" stroke-width="1"/>
<line x1="377.64" y1="486.2" x2="377.64" y2="489.2" stroke="#D9D9D9" stroke-width="1"/>
<line x1="393.98" y1="486.2" x2="393.98" y2="489.2" stroke="#D9D9D9" stroke-width="1"/>
<g font-size="8.2" text-anchor="end">
<text x="26.3" y="492">40</text>
<text x="26.3" y="472.8">50</text>
<text x="26.3" y="453.6">60</text>
<text x="26.3" y="434.4">70</text>
<text x="26.3" y="415.2">80</text>
<text x="26.3" y="396">90</text>
</g>
<g font-size="8.2" text-anchor="middle">
<text x="34.5" y="504.2">0</text>
<text x="67.18" y="504.2">1</text>
<text x="99.86" y="504.2">2</text>
<text x="132.54" y="504.2">3</text>
<text x="165.22" y="504.2">4</text>
<text x="197.9" y="504.2">5</text>
<text x="230.58" y="504.2">6</text>
<text x="263.26" y="504.2">7</text>
<text x="295.94" y="504.2">8</text>
<text x="328.62" y="504.2">9</text>
<text x="361.3" y="504.2">10</text>
<text x="393.98" y="504.2">11</text>
</g>
<polyline points="34.5,406.06 67.18,408.18 99.86,417.97 132.54,426.61 165.22,448.88 197.9,449.65 230.58,457.9 263.26,460.02 295.94,448.88 328.62,441.2 361.3,449.65 393.98,429.87" fill="none" stroke="#4472C4" stroke-width="1.7" stroke-linejoin="round" stroke-linecap="round"/>
<circle cx="34.5" cy="406.06" r="2.1" fill="#4472C4"/>
<circle cx="67.18" cy="408.18" r="2.1" fill="#4472C4"/>
<circle cx="99.86" cy="417.97" r="2.1" fill="#4472C4"/>
<circle cx="132.54" cy="426.61" r="2.1" fill="#4472C4"/>
<circle cx="165.22" cy="448.88" r="2.1" fill="#4472C4"/>
<circle cx="197.9" cy="449.65" r="2.1" fill="#4472C4"/>
<circle cx="230.58" cy="457.9" r="2.1" fill="#4472C4"/>
<circle cx="263.26" cy="460.02" r="2.1" fill="#4472C4"/>
<circle cx="295.94" cy="448.88" r="2.1" fill="#4472C4"/>
<circle cx="328.62" cy="441.2" r="2.1" fill="#4472C4"/>
<circle cx="361.3" cy="449.65" r="2.1" fill="#4472C4"/>
<circle cx="393.98" cy="429.87" r="2.1" fill="#4472C4"/>
<polyline points="34.5,409.33 67.18,411.44 99.86,421.62 132.54,429.49 165.22,452.53 197.9,453.1 230.58,461.36 263.26,463.28 295.94,451.57 328.62,444.66 361.3,453.1 393.98,433.33" fill="none" stroke="#ED7D31" stroke-width="1.7" stroke-linejoin="round" stroke-linecap="round"/>
<circle cx="34.5" cy="409.33" r="2.1" fill="#ED7D31"/>
<circle cx="67.18" cy="411.44" r="2.1" fill="#ED7D31"/>
<circle cx="99.86" cy="421.62" r="2.1" fill="#ED7D31"/>
<circle cx="132.54" cy="429.49" r="2.1" fill="#ED7D31"/>
<circle cx="165.22" cy="452.53" r="2.1" fill="#ED7D31"/>
<circle cx="197.9" cy="453.1" r="2.1" fill="#ED7D31"/>
<circle cx="230.58" cy="461.36" r="2.1" fill="#ED7D31"/>
<circle cx="263.26" cy="463.28" r="2.1" fill="#ED7D31"/>
<circle cx="295.94" cy="451.57" r="2.1" fill="#ED7D31"/>
<circle cx="328.62" cy="444.66" r="2.1" fill="#ED7D31"/>
<circle cx="361.3" cy="453.1" r="2.1" fill="#ED7D31"/>
<circle cx="393.98" cy="433.33" r="2.1" fill="#ED7D31"/>
<polyline points="34.5,412.4 67.18,423.92 99.86,435.25 132.54,468.08 165.22,468.08 197.9,479.22 230.58,481.33 263.26,464.05 295.94,452.72 328.62,465.97 361.3,434.86 393.98,406.45" fill="none" stroke="#A5A5A5" stroke-width="1.7" stroke-linejoin="round" stroke-linecap="round"/>
<circle cx="34.5" cy="412.4" r="2.1" fill="#A5A5A5"/>
<circle cx="67.18" cy="423.92" r="2.1" fill="#A5A5A5"/>
<circle cx="99.86" cy="435.25" r="2.1" fill="#A5A5A5"/>
<circle cx="132.54" cy="468.08" r="2.1" fill="#A5A5A5"/>
<circle cx="165.22" cy="468.08" r="2.1" fill="#A5A5A5"/>
<circle cx="197.9" cy="479.22" r="2.1" fill="#A5A5A5"/>
<circle cx="230.58" cy="481.33" r="2.1" fill="#A5A5A5"/>
<circle cx="263.26" cy="464.05" r="2.1" fill="#A5A5A5"/>
<circle cx="295.94" cy="452.72" r="2.1" fill="#A5A5A5"/>
<circle cx="328.62" cy="465.97" r="2.1" fill="#A5A5A5"/>
<circle cx="361.3" cy="434.86" r="2.1" fill="#A5A5A5"/>
<circle cx="393.98" cy="406.45" r="2.1" fill="#A5A5A5"/>
<text x="173.7" y="515.9" font-size="6.8" font-weight="bold" class="b" textLength="80.7" lengthAdjust="spacingAndGlyphs">Early hours January 2018</text>
<text transform="translate(12.2,513.1) rotate(-90)" font-size="8.2" font-weight="bold" class="b" textLength="117.3" lengthAdjust="spacingAndGlyphs">PM10 Concentration (<tspan font-style="italic">μg/m</tspan>^3)</text>
<line x1="111.8" y1="376.8" x2="124.8" y2="376.8" stroke="#4472C4" stroke-width="1.5"/>
<circle cx="118.3" cy="376.8" r="1.7" fill="#4472C4"/>
<text x="126.6" y="379.2" font-size="8.4" textLength="39.6" lengthAdjust="spacingAndGlyphs">LSTM Data</text>
<line x1="176.1" y1="376.8" x2="189.7" y2="376.8" stroke="#ED7D31" stroke-width="1.5"/>
<circle cx="182.6" cy="376.8" r="1.7" fill="#ED7D31"/>
<text x="190.9" y="379.2" font-size="8.4" textLength="39.3" lengthAdjust="spacingAndGlyphs">FPGA Data</text>
<line x1="240.3" y1="376.8" x2="253.6" y2="376.8" stroke="#A5A5A5" stroke-width="1.5"/>
<circle cx="246.9" cy="376.8" r="1.7" fill="#A5A5A5"/>
<text x="254.8" y="379.2" font-size="8.4" textLength="35.2" lengthAdjust="spacingAndGlyphs">Raw Data</text>
<text x="138.7" y="542.2" class="cap" style="font-family:'Liberation Serif',serif;fill:#231F20" font-size="12.6" textLength="122.8" lengthAdjust="spacingAndGlyphs">(<tspan font-weight="bold">c</tspan>) Zoom of figure (<tspan font-weight="bold">b</tspan>)</text>
</svg>
</body></html>
